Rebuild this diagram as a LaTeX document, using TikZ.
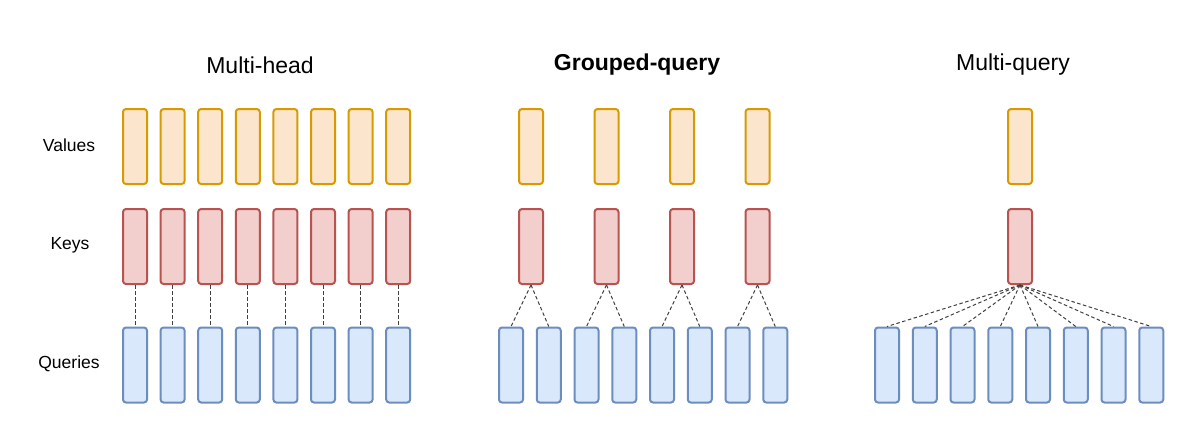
\documentclass[tikz,border=0pt]{standalone}
\usepackage{fontspec}
\setmainfont{Liberation Sans}
\begin{document}
\begin{tikzpicture}[x=1pt,y=-1pt,
  bar/.style={rounded corners=3pt,line width=2pt,minimum width=24pt,minimum height=75pt,inner sep=0pt},
  val/.style={bar,draw={rgb,255:red,215;green,155;blue,0},fill={rgb,255:red,252;green,229;blue,205}},
  key/.style={bar,draw={rgb,255:red,184;green,84;blue,80},fill={rgb,255:red,242;green,206;blue,204}},
  qry/.style={bar,draw={rgb,255:red,108;green,142;blue,191},fill={rgb,255:red,218;green,232;blue,252}},
  link/.style={line width=1pt,black!75,dash pattern=on 3.5pt off 2.5pt},
  lab/.style={font=\fontsize{17.5}{20}\selectfont},
  ttl/.style={font=\fontsize{23}{26}\selectfont}]
\useasboundingbox (0,0) rectangle (1200,421);
\fill[white] (0,0) rectangle (1200,421);
\node[ttl] (t1) at (260,65) {Multi-head};
\node[ttl,font=\fontsize{23}{26}\selectfont\bfseries] (t2) at (637,65) {Grouped-query};
\node[ttl] (t3) at (1013,65) {Multi-query};
\node[lab] (lv) at (69,145) {Values};
\node[lab] (lk) at (70,245) {Keys};
\node[lab] (lq) at (69,364) {Queries};
% Multi-head
\foreach \i in {0,...,7}{
  \pgfmathsetmacro\xx{135+37.6*\i}
  \node[val] (mv\i) at (\xx,146.5) {};
  \node[key] (mk\i) at (\xx,246.5) {};
  \node[qry] (mq\i) at (\xx,365) {};
  \draw[link] (mk\i.south) -- (mq\i.north);
}
% Grouped
\foreach \g in {0,...,3}{
  \pgfmathsetmacro\xx{531+75.5*\g}
  \node[val] (gv\g) at (\xx,146.5) {};
  \node[key] (gk\g) at (\xx,246.5) {};
}
\foreach \i in {0,...,7}{
  \pgfmathsetmacro\xx{511+37.75*\i}
  \pgfmathtruncatemacro\g{int(\i/2)}
  \node[qry] (gq\i) at (\xx,365) {};
  \draw[link] (gk\g.south) -- (gq\i.north);
}
% Multi-query
\node[val] (qv) at (1020,146.5) {};
\node[key] (qk) at (1020,246.5) {};
\foreach \i in {0,...,7}{
  \pgfmathsetmacro\xx{887+37.75*\i}
  \node[qry] (qq\i) at (\xx,365) {};
  \draw[link] (qk.south) -- (qq\i.north);
}
\end{tikzpicture}
\end{document}
